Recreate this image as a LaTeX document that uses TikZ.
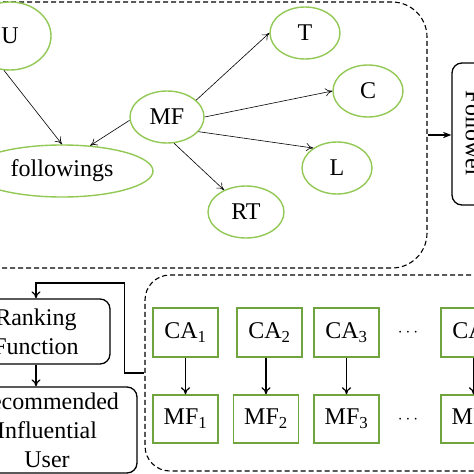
\documentclass[tikz,border=0pt]{standalone}
\usepackage{fontspec}
\setmainfont{Liberation Serif}
\usetikzlibrary{shapes.geometric, positioning, arrows.meta}
\definecolor{attrgreen}{RGB}{146,200,84}
\definecolor{featgreen}{RGB}{112,164,62}

\begin{document}
\begin{tikzpicture}[x=1pt, y=-1pt,
    font=\fontsize{24}{29}\selectfont,
    attr/.style={ellipse, draw=attrgreen, line width=1.4pt, inner sep=0pt,
      minimum width=70pt, minimum height=52pt},
    feat/.style={rectangle, draw=featgreen, line width=1.4pt, inner sep=0pt,
      minimum width=65pt, minimum height=49pt},
    frame/.style={rectangle, draw, line width=1.1pt, dash pattern=on 5pt off 3pt},
    stage/.style={rectangle, draw, rounded corners=10pt, line width=1.3pt,
      align=center, inner sep=2pt},
    link/.style={-{To[length=7pt,width=8pt]}, line width=0.6pt},
    flow/.style={-{To[length=7pt,width=9pt]}, line width=1.2pt},
    >=Stealth]

  \useasboundingbox (0,0) rectangle (474,474);
  \clip (0,0) rectangle (474,474);

  % upper block
  \node[frame, rounded corners=35pt, minimum width=500pt, minimum height=266pt]
    (social) at (177,135) {};
  \node[attr, minimum width=82pt, minimum height=68pt] (U) at (10,36) {U};
  \node[attr, minimum width=182pt] (followings) at (62,171) {followings};
  \node[attr, minimum width=74pt] (MF) at (167,117) {MF};
  \node[attr] (T) at (305,33) {T};
  \node[attr] (C) at (368,91) {C};
  \node[attr] (L) at (337,168) {L};
  \node[attr, minimum width=76pt] (RT) at (246,212) {RT};

  \draw[link] (U.260) -- (followings.north);
  \draw[link] (MF.185) -- (followings.42);
  \draw[link] (MF.30) -- (T.west);
  \draw[link] (MF.east) -- (C.west);
  \draw[link] (MF.335) -- (L.140);
  \draw[link] (MF.285) -- (RT.135);

  \node[stage, rotate=-90, minimum width=142pt, minimum height=44pt]
    (follower) at (474,134) {Follower};
  \draw[->, line width=1.2pt] (social.east) -- (social.east -| follower.south);

  % lower block
  \node[frame, rounded corners=25pt, minimum width=375pt, minimum height=196pt]
    (models) at (332.5,373) {};
  \node[stage, minimum width=148pt, minimum height=65pt]
    (rank) at (36,331.5) {Ranking\\Function};
  \node[stage, minimum width=180pt, minimum height=86pt]
    (rec) at (47,430) {Recommended\\Influential\\User};
  \draw[flow] (rank.south) -- (rank.south |- rec.north);
  \draw[flow] (models.west) -- ++(-20,0) -- ++(0,-90) -| (rank.north);

  \node[feat] (ca1) at (185.5,332.5) {CA\textsubscript{1}};
  \node[feat] (ca2) at (269.5,332.5) {CA\textsubscript{2}};
  \node[feat] (ca3) at (346.5,332.5) {CA\textsubscript{3}};
  \node[feat] (can) at (473.5,332.5) {CA\textsubscript{n}};
  \node[feat, minimum height=48pt] (mf1) at (185.5,419) {MF\textsubscript{1}};
  \node[feat, minimum height=48pt] (mf2) at (266,419) {MF\textsubscript{2}};
  \node[feat, minimum height=48pt] (mf3) at (346.5,419) {MF\textsubscript{3}};
  \node[feat, minimum height=48pt] (mfn) at (473.5,419) {MF\textsubscript{n}};
  \node[font=\fontsize{17}{20}\selectfont] (dotsa) at (408,333) {$\cdots$};
  \node[font=\fontsize{17}{20}\selectfont] (dotsb) at (408,420) {$\cdots$};

  \draw[flow] (ca1) -- (mf1);
  \draw[flow] (ca2.south -| mf2) -- (mf2);
  \draw[flow] (ca3) -- (mf3);
  \draw[flow] (can) -- (mfn);
\end{tikzpicture}
\end{document}
